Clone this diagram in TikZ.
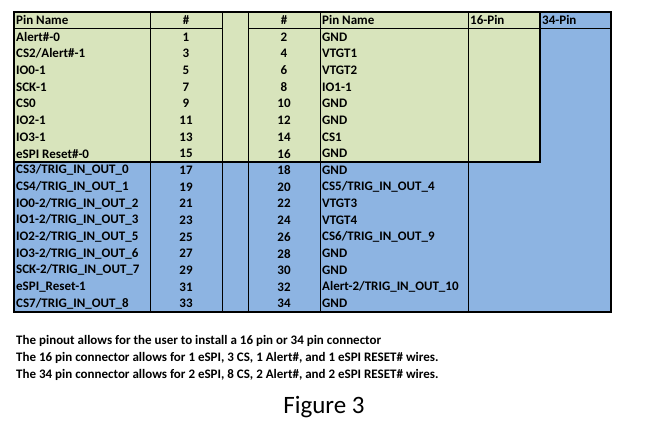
\documentclass[tikz,border=0pt]{standalone}
\usepackage{fontspec}
\setmainfont{Carlito}
\definecolor{gr}{HTML}{D8E4BC}
\definecolor{bl}{HTML}{8DB4E2}
\begin{document}
\begin{tikzpicture}[x=1pt,y=-1pt,
  cell/.style={font=\bfseries\fontsize{13}{14}\selectfont,inner sep=0pt,anchor=west},
  num/.style={font=\bfseries\fontsize{13}{14}\selectfont,inner sep=0pt},
  thin/.style={line width=0.8pt},
  thick/.style={line width=2.2pt}]
\useasboundingbox (0,0) rectangle (648,430);
\def\rh{16.667}
\fill[bl] (14,162) rectangle (611,312);
\fill[bl] (540,12) rectangle (611,162);
\fill[gr] (14,12) rectangle (540,162);
% thin lines
\foreach \x in {150,222,248,320,468} \draw[thin] (\x,12) -- (\x,312);
\draw[thin] (14,28.7) -- (222,28.7);
\draw[thin] (248,28.7) -- (611,28.7);
% thick borders
\draw[thick] (14,12) -- (611,12) -- (611,312) -- (14,312) -- cycle;
\draw[thick] (14,162) -- (540,162) -- (540,12);
% header
\node[cell] (h1) at (16,20.3) {Pin Name};
\node[num] (h2) at (186,20.3) {\#};
\node[num] (h3) at (284,20.3) {\#};
\node[cell] (h4) at (322,20.3) {Pin Name};
\node[cell] (h5) at (470,20.3) {16-Pin};
\node[cell] (h6) at (542,20.3) {34-Pin};
\foreach \i/\a/\na/\nb/\b in {
 1/Alert\#-0/1/2/GND,
 2/CS2\slash Alert\#-1/3/4/VTGT1,
 3/IO0-1/5/6/VTGT2,
 4/SCK-1/7/8/IO1-1,
 5/CS0/9/10/GND,
 6/IO2-1/11/12/GND,
 7/IO3-1/13/14/CS1,
 8/eSPI Reset\#-0/15/16/GND,
 9/CS3\slash TRIG\_IN\_OUT\_0/17/18/GND,
 10/CS4\slash TRIG\_IN\_OUT\_1/19/20/CS5\slash TRIG\_IN\_OUT\_4,
 11/IO0-2\slash TRIG\_IN\_OUT\_2/21/22/VTGT3,
 12/IO1-2\slash TRIG\_IN\_OUT\_3/23/24/VTGT4,
 13/IO2-2\slash TRIG\_IN\_OUT\_5/25/26/CS6\slash TRIG\_IN\_OUT\_9,
 14/IO3-2\slash TRIG\_IN\_OUT\_6/27/28/GND,
 15/SCK-2\slash TRIG\_IN\_OUT\_7/29/30/GND,
 16/eSPI\_Reset-1/31/32/Alert-2\slash TRIG\_IN\_OUT\_10,
 17/CS7\slash TRIG\_IN\_OUT\_8/33/34/GND}{
  \pgfmathsetmacro\yy{12+\rh*(\i+0.5)}
  \node[cell] (a\i) at (16,\yy) {\a};
  \node[num] (n\i) at (186,\yy) {\na};
  \node[num] (m\i) at (284,\yy) {\nb};
  \node[cell] (b\i) at (322,\yy) {\b};
}
\node[cell] (t1) at (16,341) {The pinout allows for the user to install a 16 pin or 34 pin connector};
\node[cell] (t2) at (16,358) {The 16 pin connector allows for 1 eSPI, 3 CS, 1 Alert\#, and 1 eSPI RESET\# wires.};
\node[cell] (t3) at (16,375) {The 34 pin connector allows for 2 eSPI, 8 CS, 2 Alert\#, and 2 eSPI RESET\# wires.};
\node[inner sep=0pt,font=\fontsize{25}{28}\selectfont] (fig) at (324,407) {Figure 3};
\end{tikzpicture}
\end{document}
